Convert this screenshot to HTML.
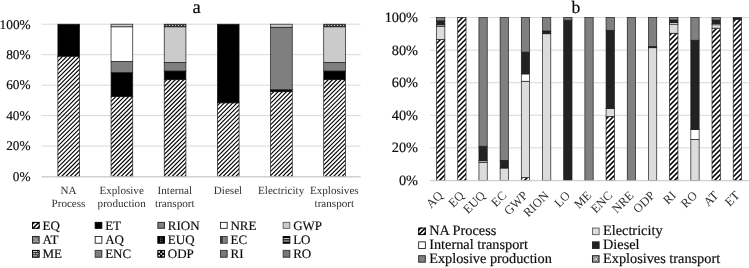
<!DOCTYPE html>
<html lang="en"><head><meta charset="utf-8"><title>Charts a and b</title>
<style>
html,body{margin:0;padding:0;background:#fff;}
body{width:749px;height:268px;overflow:hidden;font-family:"Liberation Serif", "Times New Roman", serif;}
svg{display:block;}
svg text{stroke:#0d0d0d;stroke-width:0.18px;text-rendering:geometricPrecision;}
svg text.ax{fill:#303030;stroke:none;}
</style></head><body>
<svg width="749" height="268" viewBox="0 0 749 268" font-family='"Liberation Serif", "Times New Roman", serif' fill="#0d0d0d">
<defs>
<pattern id="dotsTop" patternUnits="userSpaceOnUse" width="3" height="3">
<rect width="3" height="3" fill="#3c3c3c"/><rect x="1" y="1" width="1.1" height="1.1" fill="#c8c8c8"/>
</pattern>
</defs>
<rect width="749" height="268" fill="#fff"/>
<line x1="41.6" x2="360.6" y1="176.60" y2="176.60" stroke="#cfcfcf" stroke-width="1"/>
<text x="30.6" y="180.90" font-size="13.3" text-anchor="end">0%</text>
<line x1="41.6" x2="360.6" y1="146.12" y2="146.12" stroke="#d9d9d9" stroke-width="1"/>
<text x="30.6" y="150.42" font-size="13.3" text-anchor="end">20%</text>
<line x1="41.6" x2="360.6" y1="115.64" y2="115.64" stroke="#d9d9d9" stroke-width="1"/>
<text x="30.6" y="119.94" font-size="13.3" text-anchor="end">40%</text>
<line x1="41.6" x2="360.6" y1="85.16" y2="85.16" stroke="#d9d9d9" stroke-width="1"/>
<text x="30.6" y="89.46" font-size="13.3" text-anchor="end">60%</text>
<line x1="41.6" x2="360.6" y1="54.68" y2="54.68" stroke="#d9d9d9" stroke-width="1"/>
<text x="30.6" y="58.98" font-size="13.3" text-anchor="end">80%</text>
<line x1="41.6" x2="360.6" y1="24.20" y2="24.20" stroke="#d9d9d9" stroke-width="1"/>
<text x="30.6" y="28.50" font-size="13.3" text-anchor="end">100%</text>
<clipPath id="clip1"><rect x="57.88" y="56.20" width="21.70" height="120.40"/><rect x="111.05" y="96.59" width="21.70" height="80.01"/><rect x="164.22" y="79.67" width="21.70" height="96.93"/><rect x="217.38" y="102.84" width="21.70" height="73.76"/><rect x="270.55" y="91.71" width="21.70" height="84.89"/><rect x="323.72" y="79.67" width="21.70" height="96.93"/></clipPath>
<g clip-path="url(#clip1)"><path d="M-67.10,177.60L55.30,55.20M-62.85,177.60L59.55,55.20M-58.60,177.60L63.80,55.20M-54.35,177.60L68.05,55.20M-50.10,177.60L72.30,55.20M-45.85,177.60L76.55,55.20M-41.60,177.60L80.80,55.20M-37.35,177.60L85.05,55.20M-33.10,177.60L89.30,55.20M-28.85,177.60L93.55,55.20M-24.60,177.60L97.80,55.20M-20.35,177.60L102.05,55.20M-16.10,177.60L106.30,55.20M-11.85,177.60L110.55,55.20M-7.60,177.60L114.80,55.20M-3.35,177.60L119.05,55.20M0.90,177.60L123.30,55.20M5.15,177.60L127.55,55.20M9.40,177.60L131.80,55.20M13.65,177.60L136.05,55.20M17.90,177.60L140.30,55.20M22.15,177.60L144.55,55.20M26.40,177.60L148.80,55.20M30.65,177.60L153.05,55.20M34.90,177.60L157.30,55.20M39.15,177.60L161.55,55.20M43.40,177.60L165.80,55.20M47.65,177.60L170.05,55.20M51.90,177.60L174.30,55.20M56.15,177.60L178.55,55.20M60.40,177.60L182.80,55.20M64.65,177.60L187.05,55.20M68.90,177.60L191.30,55.20M73.15,177.60L195.55,55.20M77.40,177.60L199.80,55.20M81.65,177.60L204.05,55.20M85.90,177.60L208.30,55.20M90.15,177.60L212.55,55.20M94.40,177.60L216.80,55.20M98.65,177.60L221.05,55.20M102.90,177.60L225.30,55.20M107.15,177.60L229.55,55.20M111.40,177.60L233.80,55.20M115.65,177.60L238.05,55.20M119.90,177.60L242.30,55.20M124.15,177.60L246.55,55.20M128.40,177.60L250.80,55.20M132.65,177.60L255.05,55.20M136.90,177.60L259.30,55.20M141.15,177.60L263.55,55.20M145.40,177.60L267.80,55.20M149.65,177.60L272.05,55.20M153.90,177.60L276.30,55.20M158.15,177.60L280.55,55.20M162.40,177.60L284.80,55.20M166.65,177.60L289.05,55.20M170.90,177.60L293.30,55.20M175.15,177.60L297.55,55.20M179.40,177.60L301.80,55.20M183.65,177.60L306.05,55.20M187.90,177.60L310.30,55.20M192.15,177.60L314.55,55.20M196.40,177.60L318.80,55.20M200.65,177.60L323.05,55.20M204.90,177.60L327.30,55.20M209.15,177.60L331.55,55.20M213.40,177.60L335.80,55.20M217.65,177.60L340.05,55.20M221.90,177.60L344.30,55.20M226.15,177.60L348.55,55.20M230.40,177.60L352.80,55.20M234.65,177.60L357.05,55.20M238.90,177.60L361.30,55.20M243.15,177.60L365.55,55.20M247.40,177.60L369.80,55.20M251.65,177.60L374.05,55.20M255.90,177.60L378.30,55.20M260.15,177.60L382.55,55.20M264.40,177.60L386.80,55.20M268.65,177.60L391.05,55.20M272.90,177.60L395.30,55.20M277.15,177.60L399.55,55.20M281.40,177.60L403.80,55.20M285.65,177.60L408.05,55.20M289.90,177.60L412.30,55.20M294.15,177.60L416.55,55.20M298.40,177.60L420.80,55.20M302.65,177.60L425.05,55.20M306.90,177.60L429.30,55.20M311.15,177.60L433.55,55.20M315.40,177.60L437.80,55.20M319.65,177.60L442.05,55.20M323.90,177.60L446.30,55.20M328.15,177.60L450.55,55.20M332.40,177.60L454.80,55.20M336.65,177.60L459.05,55.20M340.90,177.60L463.30,55.20M345.15,177.60L467.55,55.20" stroke="#000" stroke-width="1.21" fill="none"/></g>
<rect x="57.88" y="56.20" width="21.70" height="120.40" fill="none" stroke="#1a1a1a" stroke-width="0.7"/>
<rect x="57.88" y="24.20" width="21.70" height="32.00" fill="#000" stroke="#1a1a1a" stroke-width="0.7"/>
<rect x="111.05" y="96.59" width="21.70" height="80.01" fill="none" stroke="#1a1a1a" stroke-width="0.7"/>
<rect x="111.05" y="72.51" width="21.70" height="24.08" fill="#000" stroke="#1a1a1a" stroke-width="0.7"/>
<rect x="111.05" y="61.39" width="21.70" height="11.13" fill="#7f7f7f" stroke="#1a1a1a" stroke-width="0.7"/>
<rect x="111.05" y="26.79" width="21.70" height="34.59" fill="#fff" stroke="#1a1a1a" stroke-width="0.7"/>
<rect x="111.05" y="24.20" width="21.70" height="2.59" fill="#cbcbcb" stroke="#1a1a1a" stroke-width="0.7"/>
<rect x="164.22" y="79.67" width="21.70" height="96.93" fill="none" stroke="#1a1a1a" stroke-width="0.7"/>
<rect x="164.22" y="70.99" width="21.70" height="8.69" fill="#000" stroke="#1a1a1a" stroke-width="0.7"/>
<rect x="164.22" y="62.45" width="21.70" height="8.53" fill="#7f7f7f" stroke="#1a1a1a" stroke-width="0.7"/>
<rect x="164.22" y="26.79" width="21.70" height="35.66" fill="#cbcbcb" stroke="#1a1a1a" stroke-width="0.7"/>
<rect x="164.22" y="24.20" width="21.70" height="2.59" fill="url(#dotsTop)" stroke="#1a1a1a" stroke-width="0.7"/>
<rect x="217.38" y="102.84" width="21.70" height="73.76" fill="none" stroke="#1a1a1a" stroke-width="0.7"/>
<rect x="217.38" y="24.20" width="21.70" height="78.64" fill="#000" stroke="#1a1a1a" stroke-width="0.7"/>
<rect x="270.55" y="91.71" width="21.70" height="84.89" fill="none" stroke="#1a1a1a" stroke-width="0.7"/>
<rect x="270.55" y="89.73" width="21.70" height="1.98" fill="#000" stroke="#1a1a1a" stroke-width="0.7"/>
<rect x="270.55" y="27.25" width="21.70" height="62.48" fill="#7f7f7f" stroke="#1a1a1a" stroke-width="0.7"/>
<rect x="270.55" y="24.20" width="21.70" height="3.05" fill="#cbcbcb" stroke="#1a1a1a" stroke-width="0.7"/>
<rect x="323.72" y="79.67" width="21.70" height="96.93" fill="none" stroke="#1a1a1a" stroke-width="0.7"/>
<rect x="323.72" y="70.99" width="21.70" height="8.69" fill="#000" stroke="#1a1a1a" stroke-width="0.7"/>
<rect x="323.72" y="62.45" width="21.70" height="8.53" fill="#7f7f7f" stroke="#1a1a1a" stroke-width="0.7"/>
<rect x="323.72" y="26.79" width="21.70" height="35.66" fill="#cbcbcb" stroke="#1a1a1a" stroke-width="0.7"/>
<rect x="323.72" y="24.20" width="21.70" height="2.59" fill="url(#dotsTop)" stroke="#1a1a1a" stroke-width="0.7"/>
<line x1="41.6" x2="360.6" y1="176.90" y2="176.90" stroke="#d0d0d0" stroke-width="1.1"/>
<text class="ax" x="68.48" y="194" font-size="11.1" text-anchor="middle">NA</text>
<text class="ax" x="68.48" y="206.8" font-size="11.1" text-anchor="middle">Process</text>
<text class="ax" x="121.65" y="194" font-size="11.1" text-anchor="middle">Explosive</text>
<text class="ax" x="121.65" y="206.8" font-size="11.1" text-anchor="middle">production</text>
<text class="ax" x="174.82" y="194" font-size="11.1" text-anchor="middle">Internal</text>
<text class="ax" x="174.82" y="206.8" font-size="11.1" text-anchor="middle">transport</text>
<text class="ax" x="227.98" y="194" font-size="11.1" text-anchor="middle">Diesel</text>
<text class="ax" x="281.15" y="194" font-size="11.1" text-anchor="middle">Electricity</text>
<text class="ax" x="334.32" y="194" font-size="11.1" text-anchor="middle">Explosives</text>
<text class="ax" x="334.32" y="206.8" font-size="11.1" text-anchor="middle">transport</text>
<text x="196.7" y="12.9" font-size="18.6" text-anchor="middle">a</text>
<text x="575.8" y="12.8" font-size="17.6" text-anchor="middle">b</text>
<clipPath id="sw320_2219"><rect x="32.05" y="221.90" width="7.60" height="6.90"/></clipPath><rect x="32.05" y="221.90" width="7.60" height="6.90" fill="#fff"/><g clip-path="url(#sw320_2219)"><path d="M26.80,229.80L35.70,220.90M31.40,229.80L40.30,220.90M36.00,229.80L44.90,220.90" stroke="#000" stroke-width="1.5" fill="none"/></g><rect x="32.55" y="222.40" width="6.60" height="5.90" fill="none" stroke="#000" stroke-width="1.0"/>
<text x="42.50" y="229.50" font-size="13">EQ</text>
<rect x="95.16" y="222.35" width="6.70" height="6.00" fill="#000" stroke="#000" stroke-width="0.9"/>
<text x="105.16" y="229.50" font-size="13">ET</text>
<rect x="157.87" y="222.40" width="6.60" height="5.90" fill="#808080" stroke="#2f2f2f" stroke-width="1.0"/>
<text x="167.82" y="229.50" font-size="13">RION</text>
<rect x="220.48" y="222.35" width="6.70" height="6.00" fill="#fff" stroke="#222" stroke-width="0.9"/>
<text x="230.48" y="229.50" font-size="13">NRE</text>
<rect x="283.14" y="222.35" width="6.70" height="6.00" fill="#cbcbcb" stroke="#5a5a5a" stroke-width="0.9"/>
<text x="293.14" y="229.50" font-size="13">GWP</text>
<rect x="32.62" y="236.57" width="6.45" height="6.55" fill="#878787" stroke="#262626" stroke-width="1.15"/><rect x="33.50" y="237.50" width="0.9" height="0.9" fill="#eee"/><rect x="35.40" y="239.40" width="0.9" height="0.9" fill="#eee"/><rect x="33.50" y="241.30" width="0.9" height="0.9" fill="#eee"/><rect x="37.40" y="241.20" width="0.9" height="0.9" fill="#eee"/>
<text x="42.50" y="243.50" font-size="13">AT</text>
<rect x="95.16" y="236.45" width="6.70" height="6.80" fill="#fff" stroke="#222" stroke-width="0.9"/>
<text x="105.16" y="243.50" font-size="13">AQ</text>
<rect x="157.82" y="236.45" width="6.70" height="6.80" fill="#000" stroke="#000" stroke-width="0.9"/><rect x="160.27" y="237.70" width="0.7" height="0.7" fill="#ddd"/><rect x="161.67" y="237.70" width="0.7" height="0.7" fill="#bbb"/><rect x="160.27" y="239.50" width="0.7" height="0.7" fill="#ddd"/><rect x="161.67" y="239.50" width="0.7" height="0.7" fill="#bbb"/><rect x="160.27" y="241.30" width="0.7" height="0.7" fill="#ddd"/><rect x="161.67" y="241.30" width="0.7" height="0.7" fill="#bbb"/>
<text x="167.82" y="243.50" font-size="13">EUQ</text>
<rect x="220.48" y="236.45" width="6.70" height="6.80" fill="#9a9a9a" stroke="#2a2a2a" stroke-width="0.9"/><rect x="220.63" y="236.60" width="2.2" height="6.50" fill="#3a3a3a"/><rect x="223.63" y="236.60" width="0.7" height="6.50" fill="#666"/><rect x="225.23" y="236.60" width="0.7" height="6.50" fill="#666"/>
<text x="230.48" y="243.50" font-size="13">EC</text>
<rect x="283.14" y="236.45" width="6.70" height="6.80" fill="#000" stroke="#000" stroke-width="0.9"/><rect x="283.59" y="238.25" width="5.80" height="0.9" fill="#fff"/><rect x="283.59" y="240.55" width="5.80" height="0.9" fill="#fff"/>
<text x="293.14" y="243.50" font-size="13">LO</text>
<rect x="32.50" y="250.35" width="6.70" height="6.90" fill="#000" stroke="#000" stroke-width="0.9"/><rect x="33.05" y="251.20" width="5.60" height="1.0" fill="#fff"/><rect x="37.22" y="251.10" width="0.8" height="1.2" fill="#000"/><rect x="33.05" y="253.30" width="5.60" height="1.0" fill="#fff"/><rect x="35.09" y="253.20" width="0.8" height="1.2" fill="#000"/><rect x="33.05" y="255.40" width="5.60" height="1.0" fill="#fff"/><rect x="37.22" y="255.30" width="0.8" height="1.2" fill="#000"/>
<text x="42.50" y="257.50" font-size="13">ME</text>
<rect x="95.16" y="250.35" width="6.70" height="6.90" fill="#626262" stroke="#333" stroke-width="0.9"/><rect x="95.71" y="250.90" width="0.8" height="0.8" fill="#b4b4b4"/><rect x="97.51" y="250.90" width="0.8" height="0.8" fill="#b4b4b4"/><rect x="99.31" y="250.90" width="0.8" height="0.8" fill="#b4b4b4"/><rect x="96.61" y="251.85" width="0.8" height="0.8" fill="#b4b4b4"/><rect x="98.41" y="251.85" width="0.8" height="0.8" fill="#b4b4b4"/><rect x="100.21" y="251.85" width="0.8" height="0.8" fill="#b4b4b4"/><rect x="95.71" y="252.80" width="0.8" height="0.8" fill="#b4b4b4"/><rect x="97.51" y="252.80" width="0.8" height="0.8" fill="#b4b4b4"/><rect x="99.31" y="252.80" width="0.8" height="0.8" fill="#b4b4b4"/><rect x="96.61" y="253.75" width="0.8" height="0.8" fill="#b4b4b4"/><rect x="98.41" y="253.75" width="0.8" height="0.8" fill="#b4b4b4"/><rect x="100.21" y="253.75" width="0.8" height="0.8" fill="#b4b4b4"/><rect x="95.71" y="254.70" width="0.8" height="0.8" fill="#b4b4b4"/><rect x="97.51" y="254.70" width="0.8" height="0.8" fill="#b4b4b4"/><rect x="99.31" y="254.70" width="0.8" height="0.8" fill="#b4b4b4"/><rect x="96.61" y="255.65" width="0.8" height="0.8" fill="#b4b4b4"/><rect x="98.41" y="255.65" width="0.8" height="0.8" fill="#b4b4b4"/><rect x="100.21" y="255.65" width="0.8" height="0.8" fill="#b4b4b4"/>
<text x="105.16" y="257.50" font-size="13">ENC</text>
<rect x="157.82" y="250.35" width="6.70" height="6.90" fill="#000" stroke="#000" stroke-width="0.9"/><circle cx="161.17" cy="253.80" r="0.85" fill="#fff"/><circle cx="159.17" cy="251.90" r="0.85" fill="#fff"/><circle cx="163.17" cy="251.90" r="0.85" fill="#fff"/><circle cx="159.17" cy="255.70" r="0.85" fill="#fff"/><circle cx="163.17" cy="255.70" r="0.85" fill="#fff"/>
<text x="167.82" y="257.50" font-size="13">ODP</text>
<rect x="220.48" y="250.35" width="6.70" height="6.90" fill="#5c5c5c" stroke="#333" stroke-width="0.9"/><rect x="221.03" y="250.90" width="0.8" height="0.8" fill="#b4b4b4"/><rect x="222.83" y="250.90" width="0.8" height="0.8" fill="#b4b4b4"/><rect x="224.63" y="250.90" width="0.8" height="0.8" fill="#b4b4b4"/><rect x="221.93" y="251.85" width="0.8" height="0.8" fill="#b4b4b4"/><rect x="223.73" y="251.85" width="0.8" height="0.8" fill="#b4b4b4"/><rect x="225.53" y="251.85" width="0.8" height="0.8" fill="#b4b4b4"/><rect x="221.03" y="252.80" width="0.8" height="0.8" fill="#b4b4b4"/><rect x="222.83" y="252.80" width="0.8" height="0.8" fill="#b4b4b4"/><rect x="224.63" y="252.80" width="0.8" height="0.8" fill="#b4b4b4"/><rect x="221.93" y="253.75" width="0.8" height="0.8" fill="#b4b4b4"/><rect x="223.73" y="253.75" width="0.8" height="0.8" fill="#b4b4b4"/><rect x="225.53" y="253.75" width="0.8" height="0.8" fill="#b4b4b4"/><rect x="221.03" y="254.70" width="0.8" height="0.8" fill="#b4b4b4"/><rect x="222.83" y="254.70" width="0.8" height="0.8" fill="#b4b4b4"/><rect x="224.63" y="254.70" width="0.8" height="0.8" fill="#b4b4b4"/><rect x="221.93" y="255.65" width="0.8" height="0.8" fill="#b4b4b4"/><rect x="223.73" y="255.65" width="0.8" height="0.8" fill="#b4b4b4"/><rect x="225.53" y="255.65" width="0.8" height="0.8" fill="#b4b4b4"/>
<text x="230.48" y="257.50" font-size="13">RI</text>
<rect x="283.14" y="250.35" width="6.70" height="6.90" fill="#585858" stroke="#333" stroke-width="0.9"/><rect x="283.69" y="250.90" width="0.8" height="0.8" fill="#b4b4b4"/><rect x="285.49" y="250.90" width="0.8" height="0.8" fill="#b4b4b4"/><rect x="287.29" y="250.90" width="0.8" height="0.8" fill="#b4b4b4"/><rect x="284.59" y="251.85" width="0.8" height="0.8" fill="#b4b4b4"/><rect x="286.39" y="251.85" width="0.8" height="0.8" fill="#b4b4b4"/><rect x="288.19" y="251.85" width="0.8" height="0.8" fill="#b4b4b4"/><rect x="283.69" y="252.80" width="0.8" height="0.8" fill="#b4b4b4"/><rect x="285.49" y="252.80" width="0.8" height="0.8" fill="#b4b4b4"/><rect x="287.29" y="252.80" width="0.8" height="0.8" fill="#b4b4b4"/><rect x="284.59" y="253.75" width="0.8" height="0.8" fill="#b4b4b4"/><rect x="286.39" y="253.75" width="0.8" height="0.8" fill="#b4b4b4"/><rect x="288.19" y="253.75" width="0.8" height="0.8" fill="#b4b4b4"/><rect x="283.69" y="254.70" width="0.8" height="0.8" fill="#b4b4b4"/><rect x="285.49" y="254.70" width="0.8" height="0.8" fill="#b4b4b4"/><rect x="287.29" y="254.70" width="0.8" height="0.8" fill="#b4b4b4"/><rect x="284.59" y="255.65" width="0.8" height="0.8" fill="#b4b4b4"/><rect x="286.39" y="255.65" width="0.8" height="0.8" fill="#b4b4b4"/><rect x="288.19" y="255.65" width="0.8" height="0.8" fill="#b4b4b4"/>
<text x="293.14" y="257.50" font-size="13">RO</text>
<line x1="430.1" x2="749" y1="180.40" y2="180.40" stroke="#cfcfcf" stroke-width="1"/>
<text x="418" y="184.90" font-size="14.3" text-anchor="end">0%</text>
<line x1="430.1" x2="749" y1="147.84" y2="147.84" stroke="#d9d9d9" stroke-width="1"/>
<text x="418" y="152.34" font-size="14.3" text-anchor="end">20%</text>
<line x1="430.1" x2="749" y1="115.28" y2="115.28" stroke="#d9d9d9" stroke-width="1"/>
<text x="418" y="119.78" font-size="14.3" text-anchor="end">40%</text>
<line x1="430.1" x2="749" y1="82.72" y2="82.72" stroke="#d9d9d9" stroke-width="1"/>
<text x="418" y="87.22" font-size="14.3" text-anchor="end">60%</text>
<line x1="430.1" x2="749" y1="50.16" y2="50.16" stroke="#d9d9d9" stroke-width="1"/>
<text x="418" y="54.66" font-size="14.3" text-anchor="end">80%</text>
<line x1="430.1" x2="749" y1="17.60" y2="17.60" stroke="#d9d9d9" stroke-width="1"/>
<text x="418" y="22.10" font-size="14.3" text-anchor="end">100%</text>
<clipPath id="clip2"><rect x="436.55" y="39.42" width="8.30" height="140.98"/><rect x="457.74" y="17.60" width="8.30" height="162.80"/><rect x="521.31" y="177.63" width="8.30" height="2.77"/><rect x="606.07" y="116.42" width="8.30" height="63.98"/><rect x="669.64" y="33.23" width="8.30" height="147.17"/><rect x="712.01" y="28.18" width="8.30" height="152.22"/><rect x="733.21" y="19.23" width="8.30" height="161.17"/></clipPath>
<g clip-path="url(#clip2)"><path d="M268.60,181.40L433.40,16.60M273.60,181.40L438.40,16.60M278.60,181.40L443.40,16.60M283.60,181.40L448.40,16.60M288.60,181.40L453.40,16.60M293.60,181.40L458.40,16.60M298.60,181.40L463.40,16.60M303.60,181.40L468.40,16.60M308.60,181.40L473.40,16.60M313.60,181.40L478.40,16.60M318.60,181.40L483.40,16.60M323.60,181.40L488.40,16.60M328.60,181.40L493.40,16.60M333.60,181.40L498.40,16.60M338.60,181.40L503.40,16.60M343.60,181.40L508.40,16.60M348.60,181.40L513.40,16.60M353.60,181.40L518.40,16.60M358.60,181.40L523.40,16.60M363.60,181.40L528.40,16.60M368.60,181.40L533.40,16.60M373.60,181.40L538.40,16.60M378.60,181.40L543.40,16.60M383.60,181.40L548.40,16.60M388.60,181.40L553.40,16.60M393.60,181.40L558.40,16.60M398.60,181.40L563.40,16.60M403.60,181.40L568.40,16.60M408.60,181.40L573.40,16.60M413.60,181.40L578.40,16.60M418.60,181.40L583.40,16.60M423.60,181.40L588.40,16.60M428.60,181.40L593.40,16.60M433.60,181.40L598.40,16.60M438.60,181.40L603.40,16.60M443.60,181.40L608.40,16.60M448.60,181.40L613.40,16.60M453.60,181.40L618.40,16.60M458.60,181.40L623.40,16.60M463.60,181.40L628.40,16.60M468.60,181.40L633.40,16.60M473.60,181.40L638.40,16.60M478.60,181.40L643.40,16.60M483.60,181.40L648.40,16.60M488.60,181.40L653.40,16.60M493.60,181.40L658.40,16.60M498.60,181.40L663.40,16.60M503.60,181.40L668.40,16.60M508.60,181.40L673.40,16.60M513.60,181.40L678.40,16.60M518.60,181.40L683.40,16.60M523.60,181.40L688.40,16.60M528.60,181.40L693.40,16.60M533.60,181.40L698.40,16.60M538.60,181.40L703.40,16.60M543.60,181.40L708.40,16.60M548.60,181.40L713.40,16.60M553.60,181.40L718.40,16.60M558.60,181.40L723.40,16.60M563.60,181.40L728.40,16.60M568.60,181.40L733.40,16.60M573.60,181.40L738.40,16.60M578.60,181.40L743.40,16.60M583.60,181.40L748.40,16.60M588.60,181.40L753.40,16.60M593.60,181.40L758.40,16.60M598.60,181.40L763.40,16.60M603.60,181.40L768.40,16.60M608.60,181.40L773.40,16.60M613.60,181.40L778.40,16.60M618.60,181.40L783.40,16.60M623.60,181.40L788.40,16.60M628.60,181.40L793.40,16.60M633.60,181.40L798.40,16.60M638.60,181.40L803.40,16.60M643.60,181.40L808.40,16.60M648.60,181.40L813.40,16.60M653.60,181.40L818.40,16.60M658.60,181.40L823.40,16.60M663.60,181.40L828.40,16.60M668.60,181.40L833.40,16.60M673.60,181.40L838.40,16.60M678.60,181.40L843.40,16.60M683.60,181.40L848.40,16.60M688.60,181.40L853.40,16.60M693.60,181.40L858.40,16.60M698.60,181.40L863.40,16.60M703.60,181.40L868.40,16.60M708.60,181.40L873.40,16.60M713.60,181.40L878.40,16.60M718.60,181.40L883.40,16.60M723.60,181.40L888.40,16.60M728.60,181.40L893.40,16.60M733.60,181.40L898.40,16.60M738.60,181.40L903.40,16.60M743.60,181.40L908.40,16.60" stroke="#000" stroke-width="1.5" fill="none"/></g>
<rect x="436.55" y="39.42" width="8.30" height="140.98" fill="none" stroke="#1a1a1a" stroke-width="0.7"/>
<rect x="436.55" y="26.55" width="8.30" height="12.86" fill="#dcdcdc" stroke="#1a1a1a" stroke-width="0.7"/>
<rect x="436.55" y="24.93" width="8.30" height="1.63" fill="#fff" stroke="#1a1a1a" stroke-width="0.7"/>
<rect x="436.55" y="20.86" width="8.30" height="4.07" fill="#222" stroke="#1a1a1a" stroke-width="0.7"/>
<rect x="436.55" y="17.60" width="8.30" height="3.26" fill="#808080" stroke="#1a1a1a" stroke-width="0.7"/>
<rect x="457.74" y="17.60" width="8.30" height="162.80" fill="none" stroke="#1a1a1a" stroke-width="0.7"/>
<rect x="478.93" y="162.49" width="8.30" height="17.91" fill="#dcdcdc" stroke="#1a1a1a" stroke-width="0.7"/>
<rect x="478.93" y="160.86" width="8.30" height="1.63" fill="#fff" stroke="#1a1a1a" stroke-width="0.7"/>
<rect x="478.93" y="146.21" width="8.30" height="14.65" fill="#222" stroke="#1a1a1a" stroke-width="0.7"/>
<rect x="478.93" y="17.60" width="8.30" height="128.61" fill="#808080" stroke="#1a1a1a" stroke-width="0.7"/>
<rect x="500.12" y="168.03" width="8.30" height="12.37" fill="#dcdcdc" stroke="#1a1a1a" stroke-width="0.7"/>
<rect x="500.12" y="160.38" width="8.30" height="7.65" fill="#222" stroke="#1a1a1a" stroke-width="0.7"/>
<rect x="500.12" y="17.60" width="8.30" height="142.78" fill="#808080" stroke="#1a1a1a" stroke-width="0.7"/>
<rect x="521.31" y="177.63" width="8.30" height="2.77" fill="none" stroke="#1a1a1a" stroke-width="0.7"/>
<rect x="521.31" y="81.25" width="8.30" height="96.38" fill="#dcdcdc" stroke="#1a1a1a" stroke-width="0.7"/>
<rect x="521.31" y="73.93" width="8.30" height="7.33" fill="#fff" stroke="#1a1a1a" stroke-width="0.7"/>
<rect x="521.31" y="52.11" width="8.30" height="21.82" fill="#222" stroke="#1a1a1a" stroke-width="0.7"/>
<rect x="521.31" y="17.60" width="8.30" height="34.51" fill="#808080" stroke="#1a1a1a" stroke-width="0.7"/>
<rect x="542.50" y="33.72" width="8.30" height="146.68" fill="#dcdcdc" stroke="#1a1a1a" stroke-width="0.7"/>
<rect x="542.50" y="30.95" width="8.30" height="2.77" fill="#222" stroke="#1a1a1a" stroke-width="0.7"/>
<rect x="542.50" y="17.60" width="8.30" height="13.35" fill="#808080" stroke="#1a1a1a" stroke-width="0.7"/>
<rect x="563.69" y="20.20" width="8.30" height="160.20" fill="#222" stroke="#1a1a1a" stroke-width="0.7"/>
<rect x="563.69" y="17.60" width="8.30" height="2.60" fill="#808080" stroke="#1a1a1a" stroke-width="0.7"/>
<rect x="584.88" y="17.60" width="8.30" height="162.80" fill="#808080" stroke="#1a1a1a" stroke-width="0.7"/>
<rect x="606.07" y="116.42" width="8.30" height="63.98" fill="none" stroke="#1a1a1a" stroke-width="0.7"/>
<rect x="606.07" y="108.44" width="8.30" height="7.98" fill="#dcdcdc" stroke="#1a1a1a" stroke-width="0.7"/>
<rect x="606.07" y="30.30" width="8.30" height="78.14" fill="#222" stroke="#1a1a1a" stroke-width="0.7"/>
<rect x="606.07" y="17.60" width="8.30" height="12.70" fill="#808080" stroke="#1a1a1a" stroke-width="0.7"/>
<rect x="627.25" y="17.60" width="8.30" height="162.80" fill="#808080" stroke="#1a1a1a" stroke-width="0.7"/>
<rect x="648.45" y="47.72" width="8.30" height="132.68" fill="#dcdcdc" stroke="#1a1a1a" stroke-width="0.7"/>
<rect x="648.45" y="46.42" width="8.30" height="1.30" fill="#222" stroke="#1a1a1a" stroke-width="0.7"/>
<rect x="648.45" y="17.60" width="8.30" height="28.82" fill="#808080" stroke="#1a1a1a" stroke-width="0.7"/>
<rect x="669.64" y="33.23" width="8.30" height="147.17" fill="none" stroke="#1a1a1a" stroke-width="0.7"/>
<rect x="669.64" y="24.11" width="8.30" height="9.12" fill="#dcdcdc" stroke="#1a1a1a" stroke-width="0.7"/>
<rect x="669.64" y="22.48" width="8.30" height="1.63" fill="#fff" stroke="#1a1a1a" stroke-width="0.7"/>
<rect x="669.64" y="20.04" width="8.30" height="2.44" fill="#222" stroke="#1a1a1a" stroke-width="0.7"/>
<rect x="669.64" y="17.60" width="8.30" height="2.44" fill="#808080" stroke="#1a1a1a" stroke-width="0.7"/>
<rect x="690.83" y="139.37" width="8.30" height="41.03" fill="#dcdcdc" stroke="#1a1a1a" stroke-width="0.7"/>
<rect x="690.83" y="129.44" width="8.30" height="9.93" fill="#fff" stroke="#1a1a1a" stroke-width="0.7"/>
<rect x="690.83" y="40.23" width="8.30" height="89.21" fill="#222" stroke="#1a1a1a" stroke-width="0.7"/>
<rect x="690.83" y="17.60" width="8.30" height="22.63" fill="#808080" stroke="#1a1a1a" stroke-width="0.7"/>
<rect x="712.01" y="28.18" width="8.30" height="152.22" fill="none" stroke="#1a1a1a" stroke-width="0.7"/>
<rect x="712.01" y="24.76" width="8.30" height="3.42" fill="#dcdcdc" stroke="#1a1a1a" stroke-width="0.7"/>
<rect x="712.01" y="23.62" width="8.30" height="1.14" fill="#fff" stroke="#1a1a1a" stroke-width="0.7"/>
<rect x="712.01" y="20.04" width="8.30" height="3.58" fill="#222" stroke="#1a1a1a" stroke-width="0.7"/>
<rect x="712.01" y="17.60" width="8.30" height="2.44" fill="#808080" stroke="#1a1a1a" stroke-width="0.7"/>
<rect x="733.21" y="19.23" width="8.30" height="161.17" fill="none" stroke="#1a1a1a" stroke-width="0.7"/>
<rect x="733.21" y="17.60" width="8.30" height="1.63" fill="#222" stroke="#1a1a1a" stroke-width="0.7"/>
<line x1="430.1" x2="749" y1="180.70" y2="180.70" stroke="#d0d0d0" stroke-width="1.1"/>
<text class="ax" transform="translate(443.70,196.20) rotate(-45)" font-size="12.4" text-anchor="end">AQ</text>
<text class="ax" transform="translate(464.89,196.20) rotate(-45)" font-size="12.4" text-anchor="end">EQ</text>
<text class="ax" transform="translate(486.08,196.20) rotate(-45)" font-size="12.4" text-anchor="end">EUQ</text>
<text class="ax" transform="translate(507.27,196.20) rotate(-45)" font-size="12.4" text-anchor="end">EC</text>
<text class="ax" transform="translate(528.46,196.20) rotate(-45)" font-size="12.4" text-anchor="end">GWP</text>
<text class="ax" transform="translate(549.64,196.20) rotate(-45)" font-size="12.4" text-anchor="end">RION</text>
<text class="ax" transform="translate(570.84,196.20) rotate(-45)" font-size="12.4" text-anchor="end">LO</text>
<text class="ax" transform="translate(592.03,196.20) rotate(-45)" font-size="12.4" text-anchor="end">ME</text>
<text class="ax" transform="translate(613.22,196.20) rotate(-45)" font-size="12.4" text-anchor="end">ENC</text>
<text class="ax" transform="translate(634.40,196.20) rotate(-45)" font-size="12.4" text-anchor="end">NRE</text>
<text class="ax" transform="translate(655.60,196.20) rotate(-45)" font-size="12.4" text-anchor="end">ODP</text>
<text class="ax" transform="translate(676.79,196.20) rotate(-45)" font-size="12.4" text-anchor="end">RI</text>
<text class="ax" transform="translate(697.98,196.20) rotate(-45)" font-size="12.4" text-anchor="end">RO</text>
<text class="ax" transform="translate(719.16,196.20) rotate(-45)" font-size="12.4" text-anchor="end">AT</text>
<text class="ax" transform="translate(740.36,196.20) rotate(-45)" font-size="12.4" text-anchor="end">ET</text>
<clipPath id="sw4182_2276"><rect x="418.20" y="227.60" width="7.60" height="7.50"/></clipPath><rect x="418.20" y="227.60" width="7.60" height="7.50" fill="#fff"/><g clip-path="url(#sw4182_2276)"><path d="M412.65,236.10L422.15,226.60M417.25,236.10L426.75,226.60M421.85,236.10L431.35,226.60" stroke="#000" stroke-width="1.5" fill="none"/></g><rect x="418.70" y="228.10" width="6.60" height="6.50" fill="none" stroke="#000" stroke-width="1.0"/>
<text x="429.20" y="235.40" font-size="14.3">NA Process</text>
<rect x="592.45" y="228.05" width="6.70" height="6.60" fill="#dcdcdc" stroke="#5a5a5a" stroke-width="0.9"/>
<text x="603.00" y="235.40" font-size="14.3">Electricity</text>
<rect x="418.65" y="241.85" width="6.70" height="6.60" fill="#fff" stroke="#222" stroke-width="0.9"/>
<text x="429.20" y="249.40" font-size="14.3">Internal transport</text>
<rect x="592.45" y="241.85" width="6.70" height="6.60" fill="#222" stroke="#222" stroke-width="0.9"/>
<text x="603.00" y="249.40" font-size="14.3">Diesel</text>
<rect x="418.70" y="255.70" width="6.60" height="6.50" fill="#808080" stroke="#2f2f2f" stroke-width="1.0"/>
<text x="429.20" y="263.40" font-size="14.3">Explosive production</text>
<rect x="592.62" y="255.82" width="6.35" height="6.25" fill="#f2f2f2" stroke="#202020" stroke-width="1.25"/><ellipse cx="595.80" cy="258.95" rx="2.1" ry="1.9" fill="#fff" stroke="#444" stroke-width="0.75"/><rect x="594.20" y="258.65" width="3.2" height="0.6" fill="#444"/>
<text x="603.00" y="263.40" font-size="14.3">Explosives transport</text>
</svg>
</body></html>
